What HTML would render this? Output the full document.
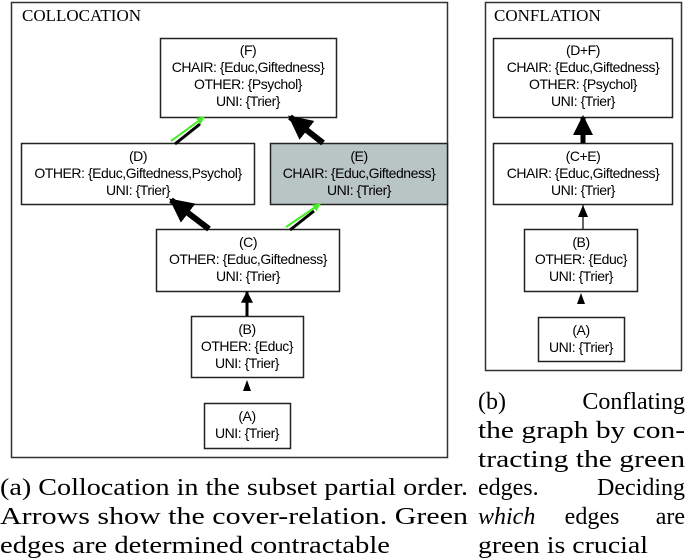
<!DOCTYPE html>
<html><head><meta charset="utf-8"><style>
html,body{margin:0;padding:0;background:#fff;width:685px;height:559px;overflow:hidden}
svg{display:block}
.n{font-family:"Liberation Sans",sans-serif;font-size:14px;text-anchor:middle;letter-spacing:-0.45px}
.t{font-family:"Liberation Serif",serif;font-size:17px}
.c{font-family:"Liberation Serif",serif;font-size:24px}
</style></head><body>
<svg width="685" height="559" viewBox="0 0 685 559" xmlns="http://www.w3.org/2000/svg">
<defs>
<marker id="ah" viewBox="0 0 10 10" refX="9" refY="5" markerWidth="4" markerHeight="4" orient="auto" markerUnits="strokeWidth"><path d="M0,0L10,5L0,10z" fill="#000"/></marker>
<marker id="ag" viewBox="0 0 10 10" refX="9" refY="5" markerWidth="4" markerHeight="4" orient="auto" markerUnits="strokeWidth"><path d="M0,0L10,5L0,10z" fill="#44ee22"/></marker>
</defs>
<g fill="none" stroke="#333" stroke-width="1.5">
<rect x="11.5" y="2.5" width="436" height="455"/>
<rect x="485.5" y="2.5" width="196" height="368"/>
</g>
<text class="t" x="22" y="21">COLLOCATION</text>
<text class="t" x="494" y="21">CONFLATION</text>
<g stroke="#222" stroke-width="1.5" fill="#fff">
<rect x="160.5" y="38.5" width="176" height="79"/>
<rect x="21.5" y="143.5" width="233" height="61"/>
<rect x="270.5" y="143.5" width="177" height="61" fill="#b9c4c4"/>
<rect x="156.5" y="229.5" width="183" height="62"/>
<rect x="191.5" y="316.5" width="112" height="61"/>
<rect x="204.5" y="403.5" width="86" height="45"/>
<rect x="493.5" y="38.5" width="179" height="79"/>
<rect x="493.5" y="143.5" width="179" height="61"/>
<rect x="524.5" y="229.5" width="113" height="62"/>
<rect x="538.5" y="317.5" width="86" height="44"/>
</g>
<g class="n" fill="#000">
<text x="248" y="55">(F)</text><text x="248" y="72">CHAIR: {Educ,Giftedness}</text><text x="248" y="89">OTHER: {Psychol}</text><text x="248" y="106">UNI: {Trier}</text>
<text x="138" y="161">(D)</text><text x="138" y="178">OTHER: {Educ,Giftedness,Psychol}</text><text x="138" y="195">UNI: {Trier}</text>
<text x="359" y="161">(E)</text><text x="359" y="178">CHAIR: {Educ,Giftedness}</text><text x="359" y="195">UNI: {Trier}</text>
<text x="248" y="247">(C)</text><text x="248" y="264">OTHER: {Educ,Giftedness}</text><text x="248" y="281">UNI: {Trier}</text>
<text x="247" y="334">(B)</text><text x="247" y="351">OTHER: {Educ}</text><text x="247" y="368">UNI: {Trier}</text>
<text x="247" y="421">(A)</text><text x="247" y="438">UNI: {Trier}</text>
<text x="583" y="55">(D+F)</text><text x="583" y="72">CHAIR: {Educ,Giftedness}</text><text x="583" y="89">OTHER: {Psychol}</text><text x="583" y="106">UNI: {Trier}</text>
<text x="583" y="161">(C+E)</text><text x="583" y="178">CHAIR: {Educ,Giftedness}</text><text x="583" y="195">UNI: {Trier}</text>
<text x="581" y="247">(B)</text><text x="581" y="264">OTHER: {Educ}</text><text x="581" y="281">UNI: {Trier}</text>
<text x="581" y="335">(A)</text><text x="581" y="352">UNI: {Trier}</text>
</g>
<line x1="175" y1="144" x2="200" y2="124" stroke="#000" stroke-width="3"/>
<line x1="171" y1="141" x2="204" y2="117" stroke="#44ee22" stroke-width="2" marker-end="url(#ag)"/>
<line x1="323" y1="143" x2="290" y2="117" stroke="#000" stroke-width="6" marker-end="url(#ah)"/>
<line x1="209" y1="229" x2="171" y2="200" stroke="#000" stroke-width="6" marker-end="url(#ah)"/>
<line x1="290" y1="230" x2="314" y2="211" stroke="#000" stroke-width="3"/>
<line x1="286" y1="227" x2="320" y2="204" stroke="#44ee22" stroke-width="2" marker-end="url(#ag)"/>
<line x1="247" y1="316" x2="247" y2="292" stroke="#000" stroke-width="3" marker-end="url(#ah)"/>
<path d="M247,380 L243,391 L251,391z" fill="#000"/>
<line x1="583" y1="143" x2="583" y2="117" stroke="#000" stroke-width="5" marker-end="url(#ah)"/>
<line x1="583" y1="229" x2="583" y2="205" stroke="#000" stroke-width="1.2"/>
<path d="M583,205 L578,217 L588,217z" fill="#000"/>
<path d="M581,293 L577,304 L585,304z" fill="#000"/>
<g class="c" fill="#000">
<text x="0" y="495" textLength="468" lengthAdjust="spacingAndGlyphs">(a) Collocation in the subset partial order.</text>
<text x="0" y="524" textLength="468" lengthAdjust="spacingAndGlyphs">Arrows show the cover-relation. Green</text>
<text x="0" y="553" textLength="390" lengthAdjust="spacingAndGlyphs">edges are determined contractable</text>
<text x="478" y="409">(b)</text><text x="685" y="409" text-anchor="end">Conflating</text>
<text x="478" y="438" textLength="207" lengthAdjust="spacingAndGlyphs">the graph by con-</text>
<text x="478" y="467" textLength="207" lengthAdjust="spacingAndGlyphs">tracting the green</text>
<text x="478" y="495">edges.</text><text x="685" y="495" text-anchor="end">Deciding</text>
<text x="478" y="524" font-style="italic">which</text><text x="592" y="524" text-anchor="middle">edges</text><text x="685" y="524" text-anchor="end">are</text>
<text x="478" y="553" textLength="170" lengthAdjust="spacingAndGlyphs">green is crucial</text>
</g>
</svg>
</body></html>
